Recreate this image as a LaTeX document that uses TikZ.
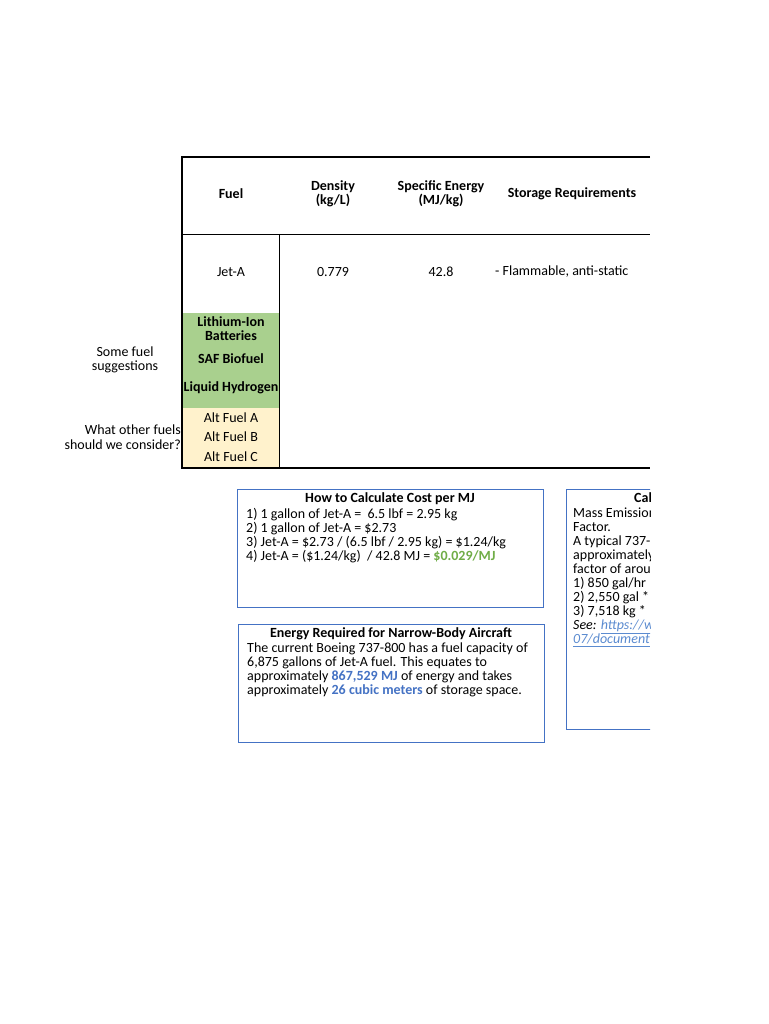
\documentclass[tikz,border=0pt]{standalone}
\usepackage{fontspec}
\setmainfont{Carlito}
\definecolor{gfill}{HTML}{A9D08E}
\definecolor{yfill}{HTML}{FFF2CC}
\definecolor{bbox}{HTML}{4472C4}
\definecolor{gtext}{HTML}{70AD47}
\definecolor{btext}{HTML}{4472C4}
\definecolor{ltext}{HTML}{5B8BD0}
\tikzset{
  cell/.style={font=\fontsize{14}{14}\selectfont\bfseries, align=center, inner sep=0pt},
  val/.style={font=\fontsize{14}{14}\selectfont, align=center, inner sep=0pt},
  side/.style={font=\fontsize{14}{14.5}\selectfont, inner sep=0pt},
  infobox/.style={draw=bbox, line width=0.8pt},
  body/.style={font=\fontsize{14}{14}\selectfont, align=left, anchor=north west, inner sep=0pt},
  title/.style={font=\fontsize{14}{14}\selectfont\bfseries, inner sep=0pt},
}
\begin{document}
\begin{tikzpicture}[x=1pt,y=-1pt]
\useasboundingbox (0,0) rectangle (768,1024);
\fill[white] (0,0) rectangle (768,1024);
% fills
\fill[gfill] (183,313) rectangle (279,408);
\fill[yfill] (183,408) rectangle (279,468);
% table lines
\draw[line width=1.8pt] (650,157) -- (182,157) -- (182,468) -- (650,468);
\draw[line width=0.9pt] (182,234) -- (650,234);
\draw[line width=0.9pt] (279,234) -- (279,468);
% header
\node[cell] (hfuel) at (231,194) {Fuel};
\node[cell] (hden) at (333,194) {Density\\(kg/L)};
\node[cell] (hse) at (441,194) {Specific Energy\\(MJ/kg)};
\node[cell] (hsr) at (572,194) {Storage Requirements};
% row jet-A
\node[val] (jet) at (231,272) {Jet-A};
\node[val] (d1) at (333,272) {0.779};
\node[val] (e1) at (441,272) {42.8};
\node[val, anchor=west] (s1) at (495,272) {- Flammable, anti-static};
\node[cell] (li) at (231,329) {Lithium-Ion\\Batteries};
\node[cell] (saf) at (231,359) {SAF Biofuel};
\node[cell] (lh) at (231,388) {Liquid Hydrogen};
\node[val] (fa) at (231,418) {Alt Fuel A};
\node[val] (fb) at (231,437) {Alt Fuel B};
\node[val] (fc) at (231,457) {Alt Fuel C};
% side labels
\node[side, align=center] (sug) at (125,360) {Some fuel\\suggestions};
\node[side, align=right, anchor=east] (oth) at (181,437) {What other fuels\\should we consider?};
% box 1
\draw[infobox] (237,489) rectangle (543,607);
\node[title] (t1) at (390,499) {How to Calculate Cost per MJ};
\node[body] (b1) at (246,508) {1) 1 gallon of Jet-A = \ 6.5 lbf = 2.95 kg\\
2) 1 gallon of Jet-A = \$2.73\\
3) Jet-A = \$2.73 / (6.5 lbf / 2.95 kg) = \$1.24/kg\\
4) Jet-A = (\$1.24/kg) \ / 42.8 MJ = \textcolor{gtext}{\bfseries \$0.029/MJ}};
% box 2
\draw[infobox] (238,624) rectangle (544,742);
\node[title] (t2) at (391,634) {Energy Required for Narrow-Body Aircraft};
\node[body] (b2) at (247,643) {The current Boeing 737-800 has a fuel capacity of\\
6,875 gallons of Jet-A fuel. This equates to\\
approximately \textcolor{btext}{\bfseries 867,529 MJ} of energy and takes\\
approximately \textcolor{btext}{\bfseries 26 cubic meters} of storage space.};
% box 3 (clipped)
\begin{scope}
\clip (560,480) rectangle (650,740);
\draw[infobox] (566,489) rectangle (900,729);
\node[title, anchor=west] (t3) at (634,499) {Calculating};
\node[body] (b3) at (573,508) {Mass Emissions\\
Factor.\\
A typical 737-\\
approximately\\
factor of around\\
1) 850 gal/hr\\
2) 2,550 gal * \\
3) 7,518 kg * \\
\textit{See: \textcolor{ltext}{\underline{https://w}}}\\
\textit{\textcolor{ltext}{\underline{07/document}}}};
\end{scope}
\end{tikzpicture}
\end{document}
